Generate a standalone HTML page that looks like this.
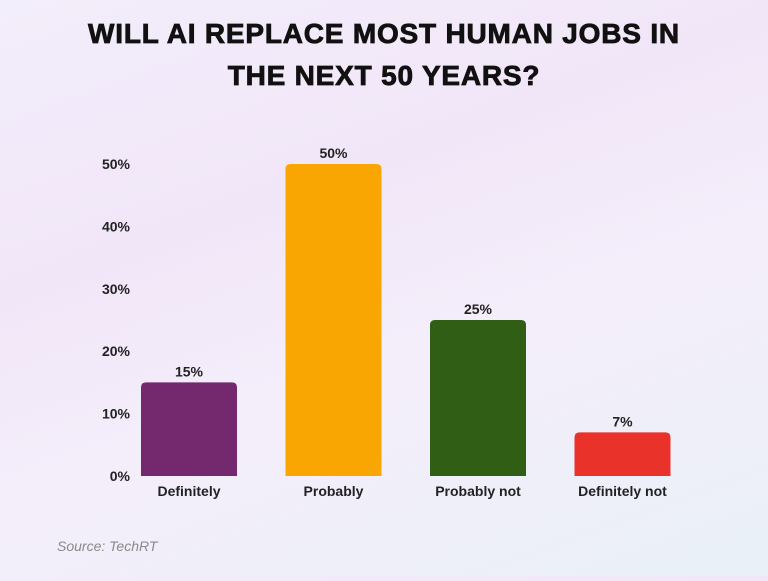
<!DOCTYPE html>
<html><head><meta charset="utf-8"><style>
html,body{margin:0;padding:0}
body{width:768px;height:576px;overflow:hidden;background:linear-gradient(160deg,#f3eefb 0%,#f1e6f8 35%,#f4eefa 60%,#e9f0f8 100%);font-family:"Liberation Sans",sans-serif}
</style></head><body>
<svg width="768" height="576">
<text x="384" y="43" text-anchor="middle" font-size="28" font-weight="900" letter-spacing="0.8" fill="#111" stroke="#111" stroke-width="0.8">WILL AI REPLACE MOST HUMAN JOBS IN</text>
<text x="384" y="85" text-anchor="middle" font-size="28" font-weight="900" letter-spacing="0.8" fill="#111" stroke="#111" stroke-width="0.8">THE NEXT 50 YEARS?</text>
<g id="yaxis"></g><g id="bars"></g>
<text x="57" y="551" font-size="14" font-style="italic" fill="#8a8a8a">Source: TechRT</text>
</svg>
<script>
const categories=["Definitely","Probably","Probably not","Definitely not"];
const values=[15,50,25,7];
const colors=["#74296f","#f9a602","#2f5e14","#e8322a"];
const ticks=[0,10,20,30,40,50];
const y=v=>476-v*6.24;
const x=i=>141+i*144.5;
const ns="http://www.w3.org/2000/svg";
const ya=document.getElementById('yaxis'),bg=document.getElementById('bars');
ticks.forEach(t=>{const e=document.createElementNS(ns,'text');


e.setAttribute('x',130);e.setAttribute('y',y(t)+5);e.setAttribute('text-anchor','end');e.setAttribute('font-size','14');e.setAttribute('font-weight','bold');e.setAttribute('fill','#222');e.textContent=t+'%';ya.appendChild(e);});
values.forEach((v,i)=>{const bw=96,x0=x(i),yt=y(v),h=476-yt,r=5;
const p=document.createElementNS(ns,'path');


p.setAttribute('d',`M${x0},476V${yt+r}Q${x0},${yt} ${x0+r},${yt}H${x0+bw-r}Q${x0+bw},${yt} ${x0+bw},${yt+r}V476Z`);
p.setAttribute('fill',colors[i]);bg.appendChild(p);
const l=document.createElementNS(ns,'text');


l.setAttribute('x',x0+bw/2);l.setAttribute('y',yt-6);l.setAttribute('text-anchor','middle');l.setAttribute('font-size','14');l.setAttribute('font-weight','bold');l.setAttribute('fill','#222');l.textContent=v+'%';bg.appendChild(l);
const c=document.createElementNS(ns,'text');


c.setAttribute('x',x0+bw/2);c.setAttribute('y',496);c.setAttribute('text-anchor','middle');c.setAttribute('font-size','14');c.setAttribute('font-weight','bold');c.setAttribute('fill','#222');c.textContent=categories[i];bg.appendChild(c);
});
</script>
</body></html>
